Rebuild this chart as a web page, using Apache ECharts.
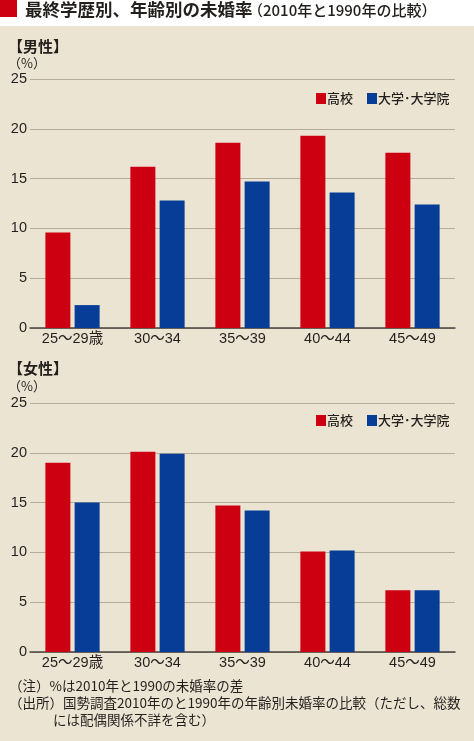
<!DOCTYPE html>
<html>
<head>
<meta charset="utf-8">
<script src="https://cdn.jsdelivr.net/npm/echarts@6/dist/echarts.min.js"></script>
<style>
  html, body { margin: 0; padding: 0; background: #ece4d3; }
  #chart { width: 474px; height: 741px; }
</style>
</head>
<body>
<div id="chart"></div>
<script>
// 年齢階級
const ageGroups = ['25〜29歳', '30〜34', '35〜39', '40〜44', '45〜49'];
const seriesNames = ['高校', '大学･大学院'];
const yTicks = [0, 5, 10, 15, 20, 25];

// 男性 (%)
const maleHighSchool = [9.6, 16.2, 18.6, 19.3, 17.6];
const maleUniversity = [2.3, 12.8, 14.7, 13.6, 12.4];

// 女性 (%)
const femaleHighSchool = [19.0, 20.1, 14.7, 10.1, 6.2];
const femaleUniversity = [15.0, 19.9, 14.2, 10.2, 6.2];

const colors = {
    red: '#cc0011',
    blue: '#073d97',
    text: '#231f1c',
    grid: '#b6ab98',
    axis: '#4a4540',
    background: '#ece4d3'
};

const FONT = "'Liberation Sans', 'Noto Sans CJK JP', sans-serif";
const CJK = "'Noto Sans CJK JP', sans-serif";

function makeGrid(top) {
    return { left: 30, width: 425, top: top, height: 249, containLabel: false };
}

function makeXAxis(gridIndex) {
    return {
        type: 'category',
        gridIndex: gridIndex,
        data: ageGroups,
        axisTick: { show: false },
        axisLine: { lineStyle: { color: colors.axis, width: 1.5 } },
        axisLabel: { color: colors.text, fontSize: 14.5, fontFamily: FONT, margin: 4 }
    };
}

function makeYAxis(gridIndex) {
    return {
        type: 'value',
        gridIndex: gridIndex,
        min: yTicks[0],
        max: yTicks[yTicks.length - 1],
        interval: yTicks[1] - yTicks[0],
        axisLine: { show: false },
        axisTick: { show: false },
        axisLabel: { color: colors.text, fontSize: 14.5, fontFamily: FONT, margin: 3 },
        splitLine: { lineStyle: { color: colors.grid, width: 1 } }
    };
}

function makeBar(name, data, color, axisIndex) {
    return {
        name: name,
        type: 'bar',
        xAxisIndex: axisIndex,
        yAxisIndex: axisIndex,
        data: data,
        barWidth: 25,
        barGap: '17%',
        itemStyle: { color: color },
        animation: false
    };
}

function makeLegend(top) {
    return {
        data: seriesNames,
        left: 311,
        top: top,
        icon: 'rect',
        itemWidth: 10,
        itemHeight: 11,
        itemGap: 14,
        selectedMode: false,
        textStyle: { color: colors.text, fontSize: 13, fontWeight: 500, fontFamily: CJK, padding: [0, 0, 0, -4] }
    };
}

function label(x, y, text, size, weight) {
    return {
        type: 'text',
        left: x,
        top: y,
        style: {
            text: text,
            fill: colors.text,
            font: (weight || 'normal') + ' ' + size + 'px ' + CJK
        }
    };
}

const chart = echarts.init(document.getElementById('chart'));

chart.setOption({
    backgroundColor: colors.background,
    animation: false,
    grid: [makeGrid(79), makeGrid(403)],
    xAxis: [makeXAxis(0), makeXAxis(1)],
    yAxis: [makeYAxis(0), makeYAxis(1)],
    legend: [makeLegend(87), makeLegend(409)],
    series: [
        makeBar(seriesNames[0], maleHighSchool, colors.red, 0),
        makeBar(seriesNames[1], maleUniversity, colors.blue, 0),
        makeBar(seriesNames[0], femaleHighSchool, colors.red, 1),
        makeBar(seriesNames[1], femaleUniversity, colors.blue, 1)
    ],
    graphic: [
        // header band
        { type: 'rect', left: 0, top: 0, shape: { width: 474, height: 26 }, style: { fill: '#ffffff' } },
        { type: 'rect', left: 0, top: 0, shape: { width: 17, height: 17 }, style: { fill: colors.red } },
        label(25, 1, '最終学歴別、年齢別の未婚率', 17.5, 'bold'),
        label(248, 3, '（2010年と1990年の比較）', 15, 500),
        // section labels
        label(8, 39, '【男性】', 15, 'bold'),
        label(8, 57, '（%）', 13, 'normal'),
        label(8, 361, '【女性】', 15, 'bold'),
        label(8, 380, '（%）', 13, 'normal'),
        // notes
        label(9, 679, '（注）%は2010年と1990の未婚率の差', 13.5, 'normal'),
        label(9, 696, '（出所）国勢調査2010年のと1990年の年齢別未婚率の比較（ただし、総数', 13.5, 'normal'),
        label(53, 713, 'には配偶関係不詳を含む）', 13.5, 'normal')
    ]
});
</script>
</body>
</html>
